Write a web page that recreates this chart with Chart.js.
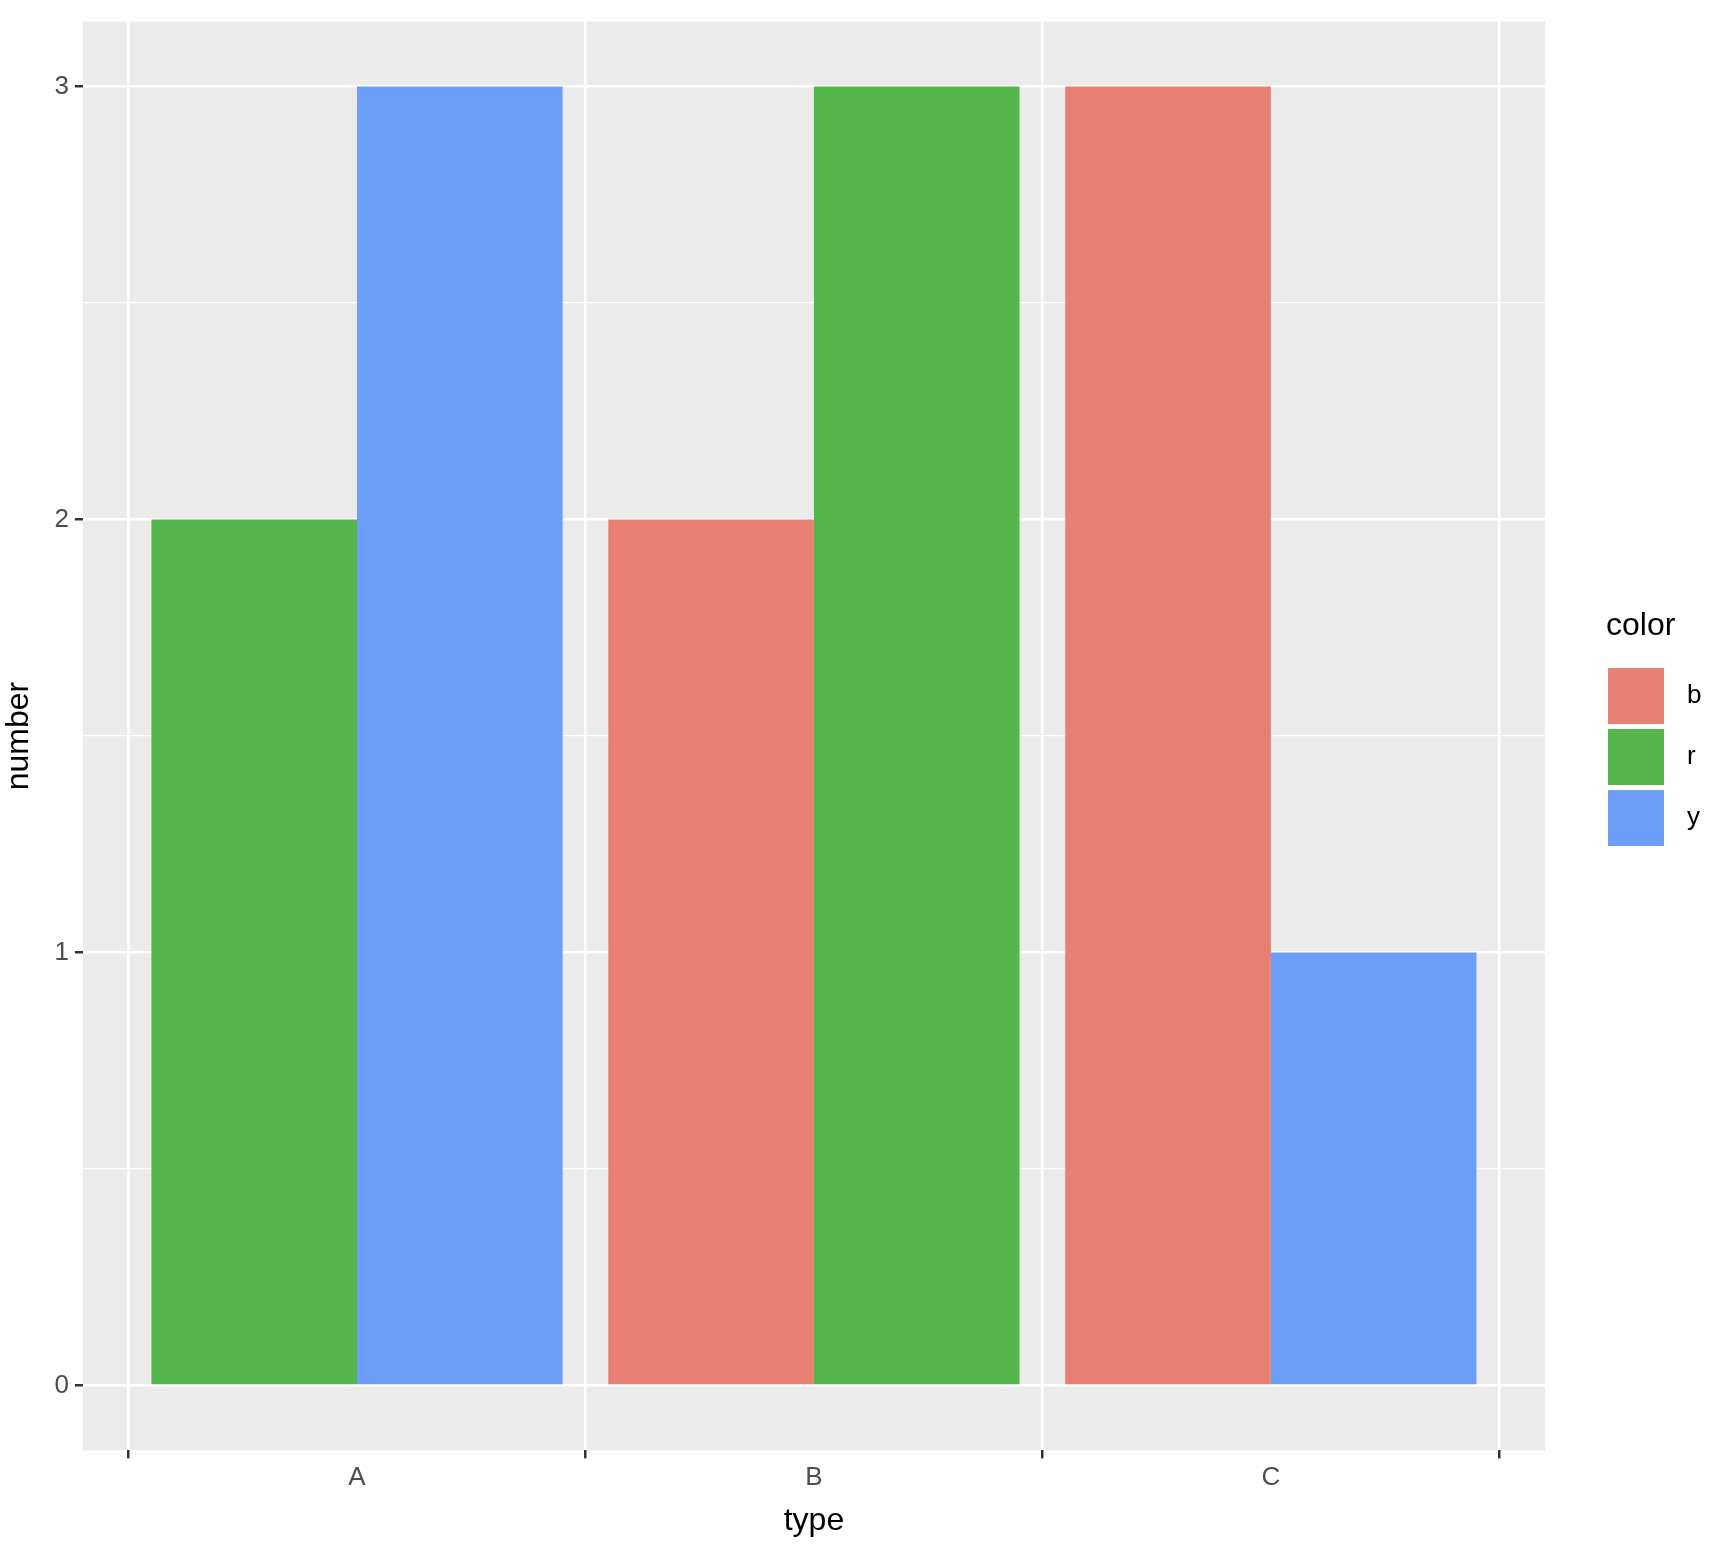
<!DOCTYPE html>
<html>
<head>
<script src="https://cdn.jsdelivr.net/npm/chart.js@4"></script>
<style>body{margin:0;background:#fff}</style>
</head>
<body>
<canvas id="chart" width="1710" height="1548"></canvas>
<script>
const categories = ['A', 'B', 'C'];
const colorNames = ['b', 'r', 'y'];
// counts per colour, null where that colour is absent for a type
const countB = [null, 2, 3];
const countR = [2, 3, null];
const countY = [3, null, 1];
const yTicks = [0, 1, 2, 3];

const fills = { b: '#E77F72', r: '#55B64C', y: '#6C9EF8' };
const counts = { b: countB, r: countR, y: countY };

// ggplot dodges only the colours that exist, so split into left / right bars
const left = [], right = [], leftColors = [], rightColors = [];
categories.forEach((cat, i) => {
  const present = colorNames.filter((c) => counts[c][i] !== null);
  left.push({ x: i + 1, y: counts[present[0]][i] });
  right.push({ x: i + 1, y: counts[present[1]][i] });
  leftColors.push(fills[present[0]]);
  rightColors.push(fills[present[1]]);
});

const panelBg = {
  id: 'panelBg',
  beforeDraw(chart) {
    const a = chart.chartArea, c = chart.ctx;
    c.save();
    c.fillStyle = '#EBEBEB';
    c.fillRect(a.left, a.top, a.right - a.left, a.bottom - a.top);
    c.restore();
  },
};

const legendBox = {
  id: 'legendBox',
  afterDraw(chart) {
    const c = chart.ctx;
    c.save();
    c.fillStyle = '#000';
    c.font = '32px "Liberation Sans", Arial, sans-serif';
    c.textBaseline = 'middle';
    c.fillText('color', 1606, 626);
    c.font = '26px "Liberation Sans", Arial, sans-serif';
    colorNames.forEach((name, k) => {
      const top = 668 + k * 61;
      c.fillStyle = fills[name];
      c.fillRect(1608, top, 56, 56);
      c.fillStyle = '#000';
      c.fillText(name, 1687, top + 28);
    });
    c.restore();
  },
};

const tickFont = { size: 26, family: '"Liberation Sans", Arial, sans-serif' };

new Chart(document.getElementById('chart'), {
  type: 'bar',
  data: {
    datasets: [
      { data: left, backgroundColor: leftColors, borderWidth: 0 },
      { data: right, backgroundColor: rightColors, borderWidth: 0 },
    ],
  },
  options: {
    responsive: false,
    animation: false,
    devicePixelRatio: 1,
    layout: { padding: { top: 3, right: 165, bottom: 0, left: 0 } },
    plugins: { legend: { display: false }, tooltip: { enabled: false } },
    datasets: { bar: { categoryPercentage: 0.9, barPercentage: 1, grouped: true } },
    scales: {
      x: {
        type: 'linear',
        min: 0.4,
        max: 3.6,
        offset: false,
        afterBuildTicks: (s) => { s.ticks = categories.map((_, i) => ({ value: i + 1 })); },
        ticks: {
          color: '#4D4D4D', font: tickFont, padding: 4,
          callback: (v) => categories[v - 1],
        },
        grid: { color: '#FFFFFF', lineWidth: 2.5, tickColor: '#333333', tickLength: 8 },
        border: { display: false },
        title: { display: true, text: 'type', color: '#000', font: { size: 32, family: tickFont.family }, padding: { top: 4, bottom: 8 } },
      },
      y: {
        min: -0.15,
        max: 3.15,
        afterBuildTicks: (s) => { s.ticks = [0, 0.5, 1, 1.5, 2, 2.5, 3].map((v) => ({ value: v })); },
        ticks: {
          color: '#4D4D4D', font: tickFont, padding: 6,
          callback: (v) => (yTicks.includes(v) ? String(v) : ''),
        },
        grid: {
          color: '#FFFFFF',
          lineWidth: (ctx) => (yTicks.includes(ctx.tick.value) ? 2.5 : 1.2),
          tickColor: (ctx) => (yTicks.includes(ctx.tick.value) ? '#333333' : 'rgba(0,0,0,0)'),
          tickLength: 8,
        },
        border: { display: false },
        title: { display: true, text: 'number', color: '#000', font: { size: 32, family: tickFont.family }, padding: { top: 0, bottom: 10 } },
      },
    },
  },
  plugins: [panelBg, legendBox],
});
</script>
</body>
</html>
